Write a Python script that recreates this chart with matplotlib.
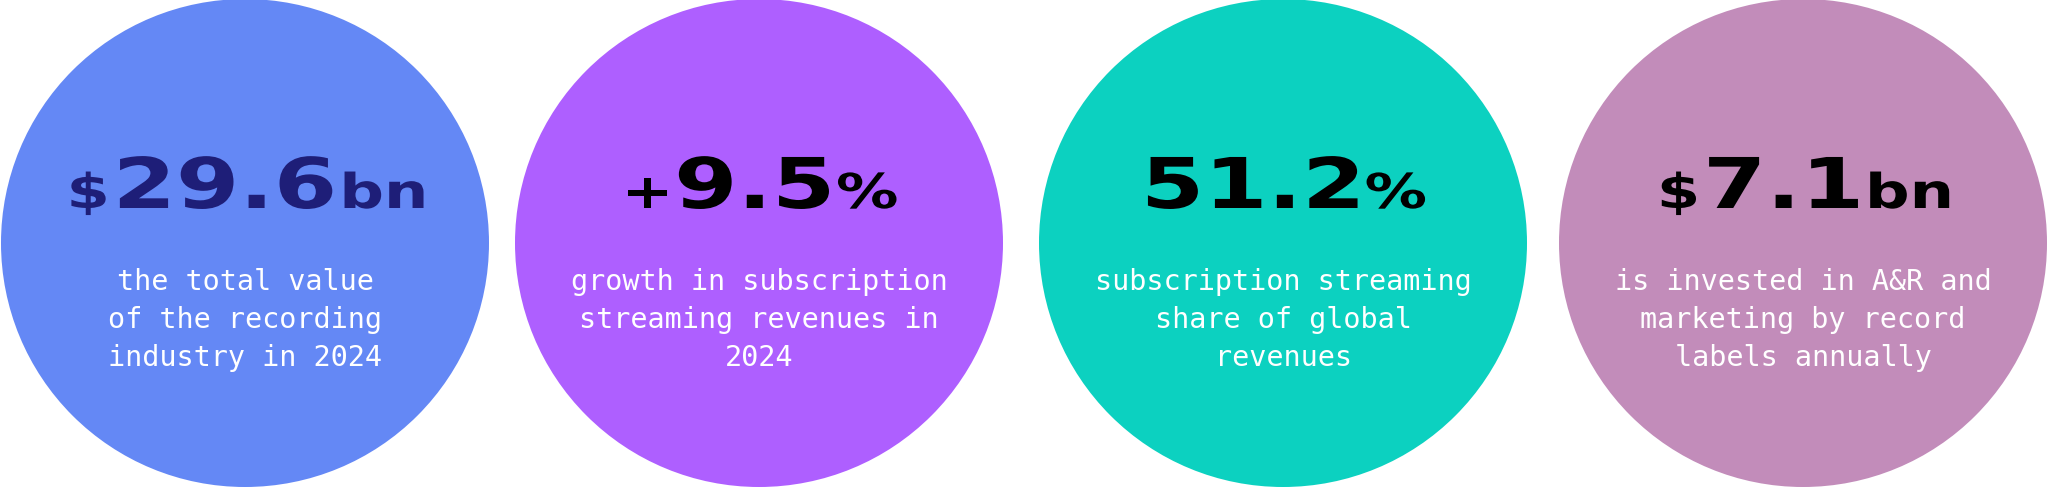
import matplotlib
matplotlib.use("Agg")
import matplotlib.pyplot as plt
from matplotlib.patches import Circle, PathPatch
from matplotlib.textpath import TextPath
from matplotlib.font_manager import FontProperties
from matplotlib.transforms import Affine2D

prefixes = ["$", "+", "", "$"]
numbers = ["29.6", "9.5", "51.2", "7.1"]
suffixes = ["bn", "%", "%", "bn"]
descriptions = [
    "the total value\nof the recording\nindustry in 2024",
    "growth in subscription\nstreaming revenues in\n2024",
    "subscription streaming\nshare of global\nrevenues",
    "is invested in A&R and\nmarketing by record\nlabels annually",
]
circle_colors = ["#6488F5", "#AE5FFF", "#0CD1C0", "#C28CBA"]
number_colors = ["#1E1E78", "#000000", "#000000", "#000000"]

W, H = 2048, 489
fig = plt.figure(figsize=(W / 100, H / 100), dpi=100)
ax = fig.add_axes([0, 0, 1, 1])
ax.set_xlim(0, W)
ax.set_ylim(H, 0)
ax.set_aspect("equal")
ax.axis("off")

centers = [245, 759, 1283, 1803]
R = 244
fp = FontProperties(family="DejaVu Sans", weight="bold")
SX = 1.3

for i, cx in enumerate(centers):
    ax.add_patch(Circle((cx, 244), R, color=circle_colors[i], lw=0))
    pieces = [(prefixes[i], 48), (numbers[i], 70), (suffixes[i], 48)]
    paths = [TextPath((0, 0), s, size=sz, prop=fp) for s, sz in pieces if s]
    gap = 7
    widths = [p.get_extents().x1 * SX for p in paths]
    total = sum(widths) + gap * (len(widths) - 1)
    x = cx - total / 2
    for p, w in zip(paths, widths):
        tr = Affine2D().scale(SX, -1).translate(x, 209)
        ax.add_patch(PathPatch(tr.transform_path(p), color=number_colors[i], lw=0))
        x += w + gap
    ax.text(cx, 320, descriptions[i], ha="center", va="center", color="white",
            fontsize=20.5, family="DejaVu Sans Mono", linespacing=1.47)

fig.savefig("out.png", dpi=100)
